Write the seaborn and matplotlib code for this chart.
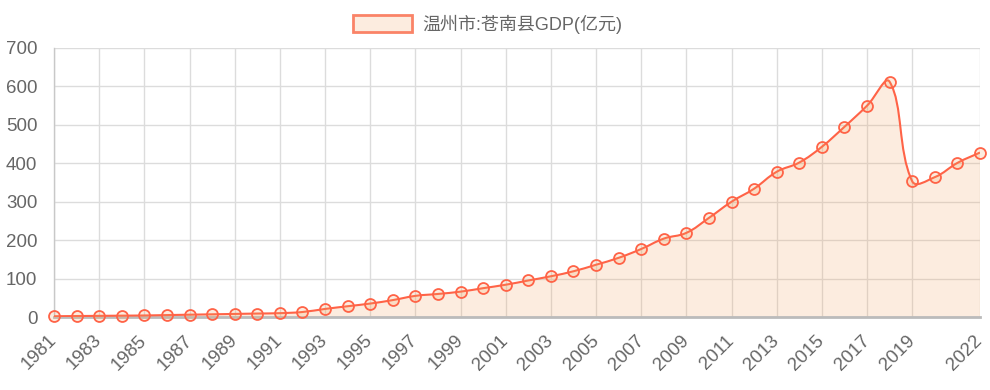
import numpy as np
import pandas as pd
import matplotlib
matplotlib.use('Agg')
import matplotlib.pyplot as plt
from matplotlib.path import Path
from matplotlib.patches import PathPatch, Rectangle
import seaborn as sns

# data
years = list(range(1981, 2023))
gdp = [2, 2.5, 3, 3.5, 4, 5, 6, 7, 8, 9, 10, 13, 21, 28, 35, 44, 55, 60, 66, 75,
       84, 95, 106, 119, 136, 154, 177, 204, 219, 258, 300, 334, 378, 402, 443,
       495, 550, 612, 353, 364, 401, 428]
tick_years = list(range(1981, 2020, 2)) + [2022]
y_ticks = [0, 100, 200, 300, 400, 500, 600, 700]
series_name = '温州市:苍南县GDP(亿元)'

df = pd.DataFrame({'year': years, 'gdp': gdp})

line_color = '#ff6347'
fill_color = (244 / 255, 164 / 255, 96 / 255, 0.2)
text_color = '#666666'
grid_color = '#dcdcdc'

sns.set_theme(style='white')
plt.rcParams['font.family'] = ['Liberation Sans', 'Noto Sans CJK SC', 'DejaVu Sans']

W, H = 990, 390
fig = plt.figure(figsize=(W / 100, H / 100), dpi=100)
left, right, top, bottom = 54, 980, 48, 317
ax = fig.add_axes([left / W, 1 - bottom / H, (right - left) / W, (bottom - top) / H])
ax.set_xlim(years[0], years[-1])
ax.set_ylim(0, 700)

# chart.js style bezier smoothing (tension 0.4), computed in pixel space
sx = (right - left) / (years[-1] - years[0])
sy = (bottom - top) / 700.0
px = np.array(years, dtype=float) * sx
py = np.array(gdp, dtype=float) * sy
n = len(px)
verts = [(years[0], gdp[0])]
codes = [Path.MOVETO]
cp_prev = [None] * n
cp_next = [None] * n
t = 0.4
for i in range(n):
    p0 = i - 1 if i > 0 else i
    p2 = i + 1 if i < n - 1 else i
    d01 = np.hypot(px[i] - px[p0], py[i] - py[p0])
    d12 = np.hypot(px[p2] - px[i], py[p2] - py[i])
    s01 = d01 / (d01 + d12) if d01 + d12 else 0
    s12 = d12 / (d01 + d12) if d01 + d12 else 0
    fa, fb = t * s01, t * s12
    dx, dy = px[p2] - px[p0], py[p2] - py[p0]
    cp_prev[i] = (px[i] - fa * dx, py[i] - fa * dy)
    cp_next[i] = (px[i] + fb * dx, py[i] + fb * dy)
for i in range(n - 1):
    c1 = cp_next[i]
    c2 = cp_prev[i + 1]
    verts += [(c1[0] / sx, c1[1] / sy), (c2[0] / sx, c2[1] / sy), (years[i + 1], gdp[i + 1])]
    codes += [Path.CURVE4] * 3

fill_verts = verts + [(years[-1], 0), (years[0], 0), (years[0], gdp[0])]
fill_codes = codes + [Path.LINETO, Path.LINETO, Path.CLOSEPOLY]
ax.add_patch(PathPatch(Path(fill_verts, fill_codes), facecolor=fill_color,
                       edgecolor='none', zorder=1))
ax.add_patch(PathPatch(Path(verts, codes), facecolor='none', edgecolor=line_color,
                       linewidth=1.5, zorder=3))

sns.scatterplot(data=df, x='year', y='gdp', ax=ax, s=62, marker='o',
                facecolor=fill_color, edgecolor=line_color, linewidth=1.3,
                zorder=4, clip_on=False)

# grid and axes
ax.set_xticks(tick_years)
ax.set_xticklabels([str(y) for y in tick_years], rotation=45, ha='right',
                   va='center', rotation_mode='anchor')
ax.set_yticks(y_ticks)
ax.tick_params(axis='both', length=10, width=1, color=grid_color,
               labelsize=13.5, labelcolor=text_color, pad=2)
ax.tick_params(axis='x', pad=5)
ax.grid(True, color=grid_color, linewidth=1)
ax.set_axisbelow(True)
for side in ['top', 'right']:
    ax.spines[side].set_visible(False)
ax.spines['left'].set_color('#c8c8c8')
ax.spines['left'].set_linewidth(1)
ax.spines['bottom'].set_color('#bbbbbb')
ax.spines['bottom'].set_linewidth(2)
ax.set_xlabel('')
ax.set_ylabel('')

# legend drawn at the top centre
fig.add_artist(Rectangle((353 / W, 1 - 32 / H), 59 / W, 17 / H, transform=fig.transFigure,
                         facecolor=fill_color, edgecolor='#fa8367', linewidth=2))
fig.text(422 / W, 1 - 24 / H, series_name, fontsize=13, color=text_color,
         va='center', ha='left')

fig.savefig('out.png', dpi=100)
